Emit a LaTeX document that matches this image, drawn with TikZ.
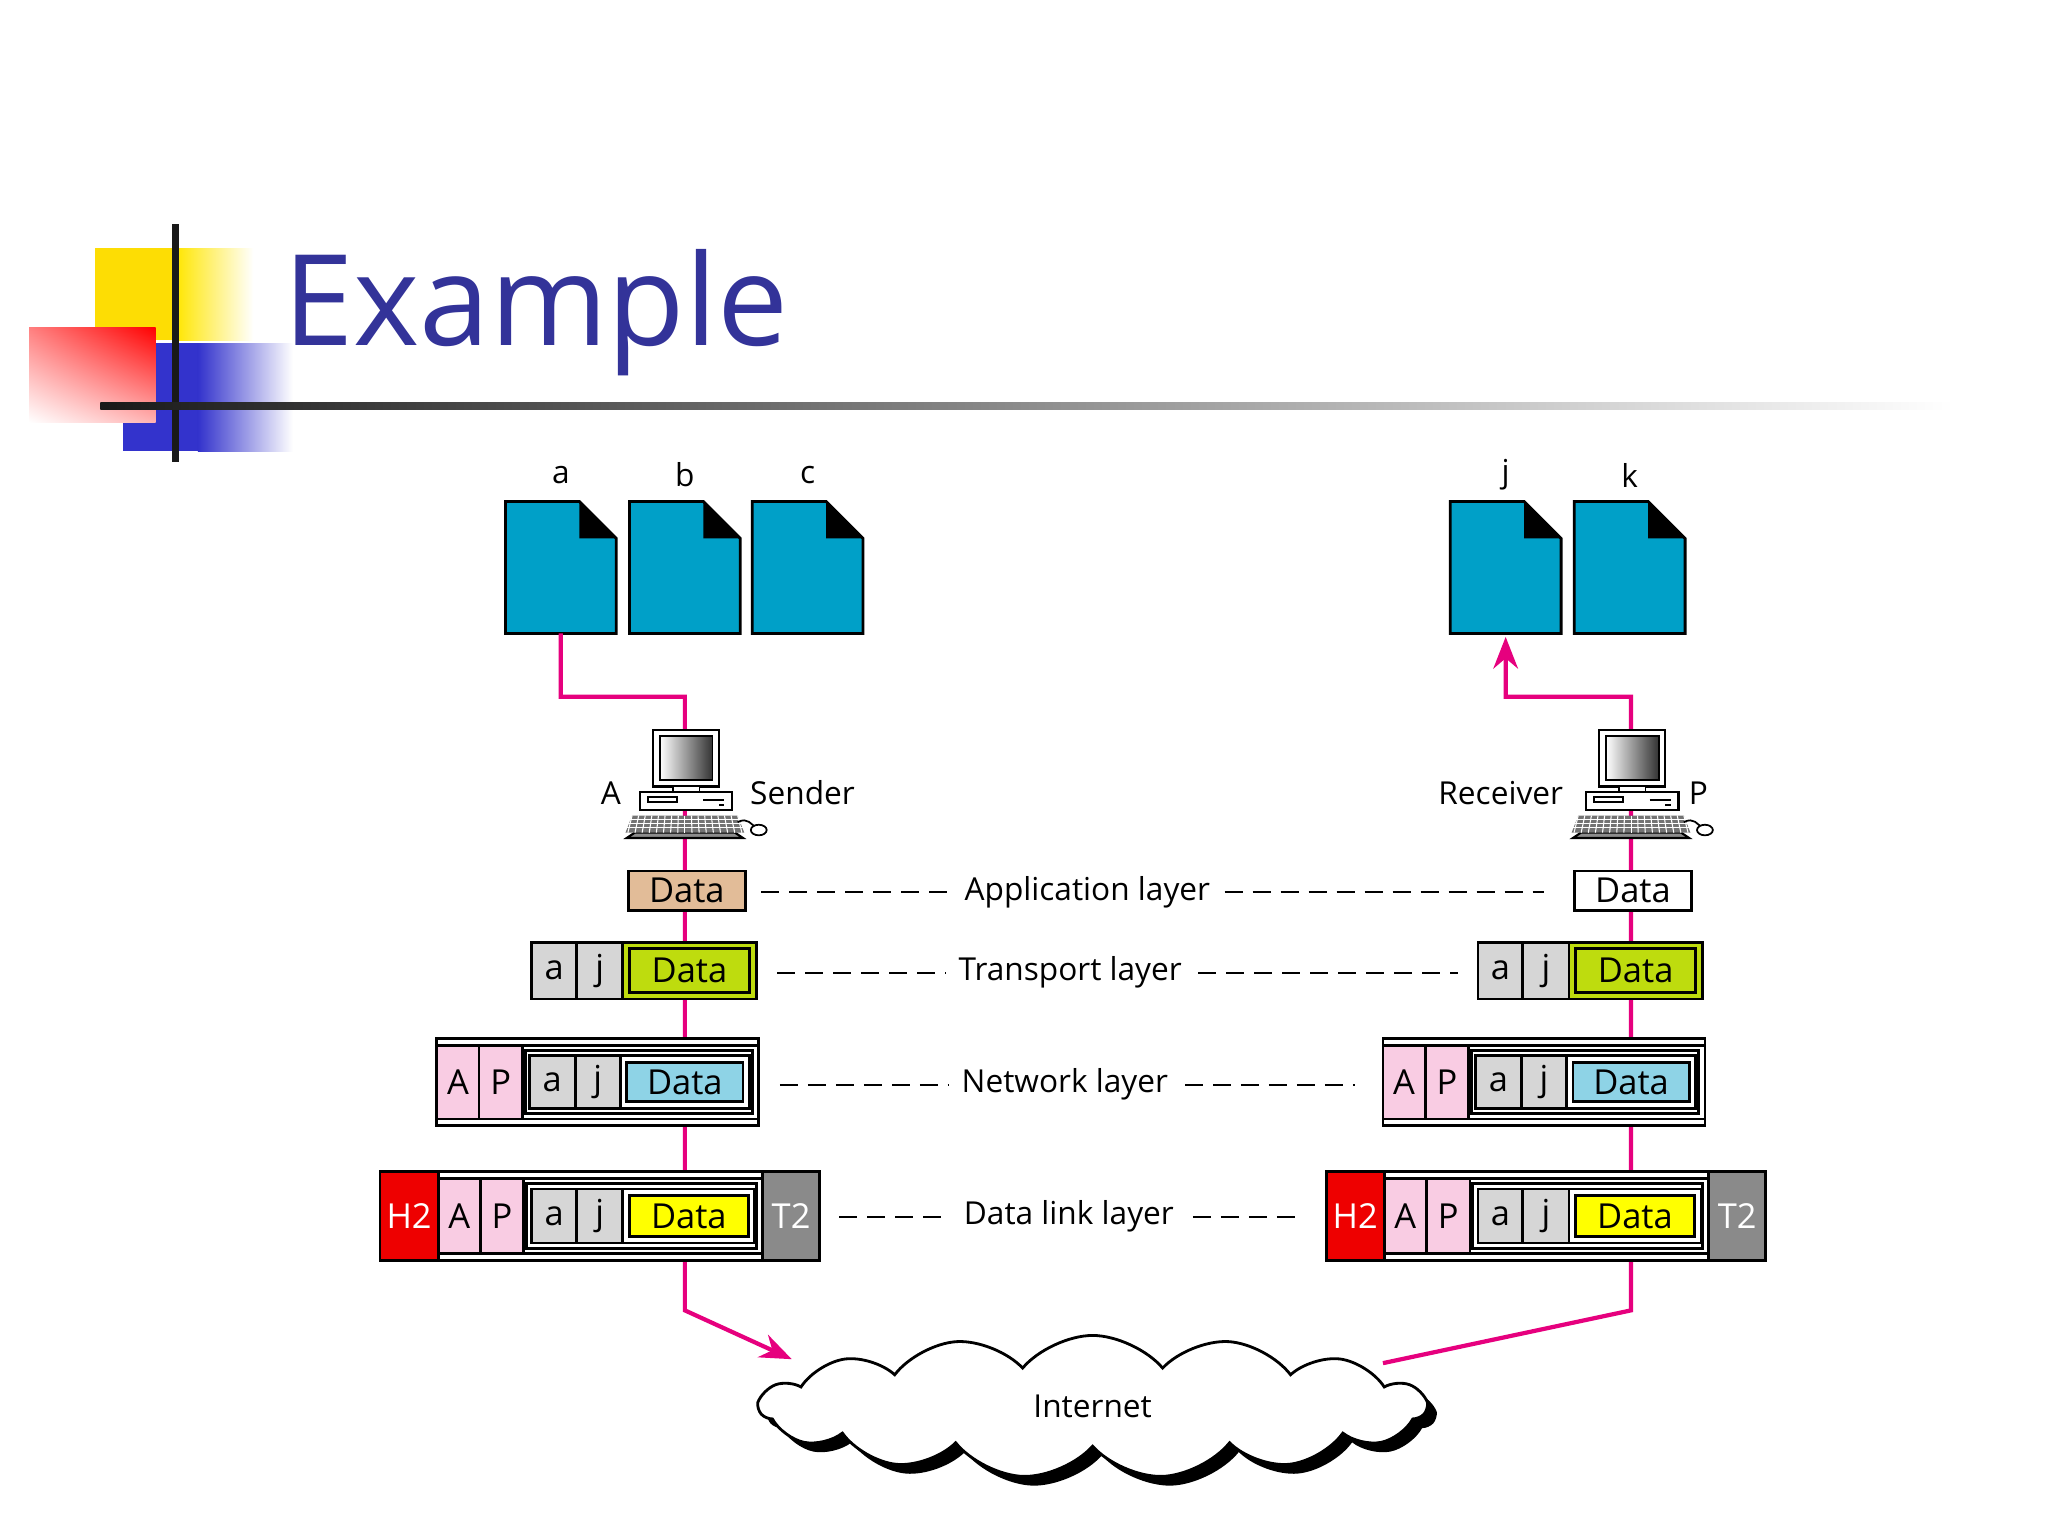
\documentclass[tikz,border=0pt]{standalone}
\usepackage{fontspec}
\setmainfont{Open Sans}
\usetikzlibrary{shapes.symbols,arrows.meta,shadings}
\definecolor{titleblue}{RGB}{51,51,153}
\definecolor{docblue}{RGB}{0,160,200}
\definecolor{wire}{RGB}{230,0,126}
\definecolor{tan}{RGB}{226,188,152}
\definecolor{tgreen}{RGB}{190,220,14}
\definecolor{nblue}{RGB}{142,211,230}
\definecolor{hpink}{RGB}{249,204,227}
\definecolor{lgray}{RGB}{214,214,214}
\definecolor{tgray}{RGB}{138,138,138}
\definecolor{hred}{RGB}{238,0,0}
\definecolor{dyell}{RGB}{255,255,0}
\def\u{0.013196cm}
\tikzset{
  cell/.style={draw, line width=0.8pt, inner sep=0pt, font=\fontsize{9.8pt}{10pt}\selectfont},
  lbl/.style={inner sep=0pt, font=\fontsize{9pt}{10pt}\selectfont},
  layerdash/.style={line width=0.6pt, dash pattern=on 0.18cm off 0.1cm},
  wireline/.style={wire, line width=1.2pt}
}
% document icon: #1 name, #2 left x, #3 label
\newcommand\doc[3]{%
  \filldraw[fill=docblue, line width=0.8pt] (#2,380) -- (#2+56,380) -- (#2+84,408) -- (#2+84,480) -- (#2,480) -- cycle;
  \fill (#2+56,380) -- (#2+84,408) -- (#2+56,408) -- cycle;
  \node[lbl] (#1) at (#2+42,360) {#3};
  \coordinate (#1b) at (#2+42,480);
}
% computer icon centred at #1
\newcommand\pc[1]{%
  \begin{scope}[shift={#1}]
    \filldraw[fill=white, line width=0.6pt] (-24,-42) rectangle (26,1);
    \shade[left color=white, right color=black!80] (-19,-37) rectangle (21,-4);
    \draw[line width=0.5pt] (-19,-37) rectangle (21,-4);
    \filldraw[fill=white, line width=0.5pt] (-9,1) rectangle (11,5);
    \filldraw[fill=white, line width=0.6pt] (-34,5) rectangle (36,19);
    \draw[line width=0.5pt] (-28,9) rectangle (-6,13);
    \draw[line width=0.5pt] (14,11) -- (30,11);
    \fill (26,14) rectangle (30,16);
    \filldraw[fill=black!45, line width=0.6pt] (-38,36) -- (-44,40) -- (44,40) -- (38,36) -- cycle;
    \fill[black!55] (-40,23) -- (-45,36) -- (45,36) -- (40,23) -- cycle;
    \foreach \i in {26,29,32} \draw[white, line width=0.3pt] (-44,\i) -- (44,\i);
    \foreach \i in {-40,-35,...,40} \draw[white, line width=0.3pt] (\i,23) -- (\i*1.08,36);
    \draw[line width=0.5pt] (40,28) .. controls (48,24) and (50,30) .. (54,32);
    \filldraw[fill=white, line width=0.5pt] (56,34) ellipse (6 and 4);
  \end{scope}
}
% protocol stack: #1 prefix, #2 application fill
\newcommand\stack[2]{%
  \node[cell, fill=#2, minimum width=89*\u, minimum height=30*\u] (#1app) at (520.5,675) {Data};
  % transport
  \node[cell, fill=lgray, minimum width=34*\u, minimum height=43*\u] (#1ta) at (420,735.5) {a};
  \node[cell, fill=lgray, minimum width=35*\u, minimum height=43*\u] (#1tj) at (454.5,735.5) {j};
  \node[cell, fill=tgreen, minimum width=101*\u, minimum height=43*\u] (#1tr) at (522.5,735.5) {};
  \node[cell, fill=tgreen, minimum width=91*\u, minimum height=33*\u] (#1td) at (522.5,735.5) {Data};
  % network
  \node[cell, fill=white, minimum width=244*\u, minimum height=66*\u] (#1nw) at (453,820) {};
  \node[cell, fill=white, minimum width=244*\u, minimum height=56*\u] (#1nwi) at (453,820) {};
  \node[cell, fill=hpink, minimum width=32*\u, minimum height=56*\u] (#1nA) at (347,820) {A};
  \node[cell, fill=hpink, minimum width=33*\u, minimum height=56*\u] (#1nP) at (379.5,820) {P};
  \node[cell, fill=white, minimum width=172*\u, minimum height=48*\u] (#1nt) at (484,820) {};
  \node[cell, fill=lgray, minimum width=35*\u, minimum height=40*\u] (#1na) at (418.5,820) {a};
  \node[cell, fill=lgray, minimum width=34*\u, minimum height=40*\u] (#1nj) at (453,820) {j};
  \node[cell, fill=white, minimum width=98*\u, minimum height=40*\u] (#1nr) at (519,820) {};
  \node[cell, fill=nblue, minimum width=88*\u, minimum height=30*\u] (#1nd) at (519,820) {Data};
  % data link
  \node[cell, fill=hred, text=white, minimum width=44*\u, minimum height=67*\u] (#1H) at (310,921.5) {H2};
  \node[cell, fill=white, minimum width=246*\u, minimum height=67*\u] (#1dw) at (455,921.5) {};
  \node[cell, fill=white, minimum width=246*\u, minimum height=57*\u] (#1dwi) at (455,921.5) {};
  \node[cell, fill=hpink, minimum width=32*\u, minimum height=57*\u] (#1dA) at (348,921.5) {A};
  \node[cell, fill=hpink, minimum width=33*\u, minimum height=57*\u] (#1dP) at (380.5,921.5) {P};
  \node[cell, fill=white, minimum width=174*\u, minimum height=49*\u] (#1dn) at (486,921.5) {};
  \node[cell, fill=lgray, minimum width=34*\u, minimum height=41*\u] (#1da) at (420,921.5) {a};
  \node[cell, fill=lgray, minimum width=35*\u, minimum height=41*\u] (#1dj) at (454.5,921.5) {j};
  \node[cell, fill=white, minimum width=100*\u, minimum height=41*\u] (#1dr) at (522,921.5) {};
  \node[cell, fill=dyell, minimum width=90*\u, minimum height=31*\u] (#1dd) at (522,921.5) {Data};
  \node[cell, fill=tgray, text=white, minimum width=43*\u, minimum height=67*\u] (#1T) at (599.5,921.5) {T2};
}
\begin{document}
\begin{tikzpicture}[x=0.013196cm, y=-0.013196cm]
\useasboundingbox (0,0) rectangle (1552,1164);
\fill[white] (0,0) rectangle (1552,1164);

% title decoration
\fill[yellow!80!orange] (72,188) rectangle (133,258);
\shade[left color=yellow!80!orange, right color=white] (133,188) rectangle (192,258);
\fill[blue!75!black!80] (93,260) rectangle (150,342);
\shade[left color=blue!75!black!80, right color=white] (150,260) rectangle (222,342);
\shade[upper right=red, upper left=red!50!white, lower left=white, lower right=red!30!white] (22,248) rectangle (118,320);
\draw[black!90, line width=2pt] (133,170) -- (133,350);
\shade[left color=black!90, right color=white] (76,305) rectangle (1480,310);
\node[anchor=base west, inner sep=0pt, text=titleblue, font=\fontsize{36pt}{40pt}\selectfont] (title) at (214,262) {Example};

% documents
\doc{da}{383}{a}
\doc{db}{477}{b}
\doc{dc}{570}{c}
\doc{dj}{1099}{j}
\doc{dk}{1193}{k}

% wires
\coordinate (s1) at (425,528);
\coordinate (s2) at (519,528);
\coordinate (s3) at (519,993);
\coordinate (sin) at (600,1030);
\coordinate (r1) at (1141,528);
\coordinate (r2) at (1236,528);
\coordinate (r3) at (1236,993);
\coordinate (rin) at (1048,1033);
\draw[wireline, -{Stealth[length=9pt,width=7pt]}] (dab) -- (s1) -- (s2) -- (s3) -- (sin);
\draw[wireline, -{Stealth[length=9pt,width=7pt]}] (rin) -- (r3) -- (r2) -- (r1) -- ([yshift=-1pt]djb);

% hosts
\pc{(519,595)}
\pc{(1236,595)}
\node[lbl] (hA) at (463,601) {A};
\node[lbl, anchor=west] (hS) at (568,601) {Sender};
\node[lbl, anchor=east] (hR) at (1185,601) {Receiver};
\node[lbl] (hP) at (1287,601) {P};

% stacks
\stack{s}{tan}
\begin{scope}[shift={(717,0)}]
\stack{r}{white}
\end{scope}

% layer labels
\node[lbl] (lapp) at (824,676) {Application layer};
\node[lbl] (ltr) at (811,737) {Transport layer};
\node[lbl] (lnw) at (807,822) {Network layer};
\node[lbl] (ldl) at (810,922) {Data link layer};
\coordinate (a1) at (577,676); \coordinate (a2) at (722,676);
\coordinate (a3) at (928,676); \coordinate (a4) at (1170,676);
\coordinate (t1) at (589,737); \coordinate (t2) at (717,737);
\coordinate (t3) at (908,737); \coordinate (t4) at (1105,737);
\coordinate (n1) at (591,822); \coordinate (n2) at (719,822);
\coordinate (n3) at (898,822); \coordinate (n4) at (1027,822);
\coordinate (l1) at (636,922); \coordinate (l2) at (719,922);
\coordinate (l3) at (904,922); \coordinate (l4) at (988,922);
\draw[layerdash] (a1) -- (a2); \draw[layerdash] (a3) -- (a4);
\draw[layerdash] (t1) -- (t2); \draw[layerdash] (t3) -- (t4);
\draw[layerdash] (n1) -- (n2); \draw[layerdash] (n3) -- (n4);
\draw[layerdash] (l1) -- (l2); \draw[layerdash] (l3) -- (l4);

% internet cloud
\node[cloud, cloud puffs=15, cloud puff arc=100, aspect=4.6, fill=black, inner sep=0pt,
      minimum width=505*\u, minimum height=108*\u] (shadow) at (835,1073) {};
\node[cloud, cloud puffs=15, cloud puff arc=100, aspect=4.6, fill=white, draw, line width=0.8pt, inner sep=0pt,
      minimum width=505*\u, minimum height=108*\u, font=\fontsize{9pt}{10pt}\selectfont] (internet) at (828,1066) {Internet};
\end{tikzpicture}
\end{document}
